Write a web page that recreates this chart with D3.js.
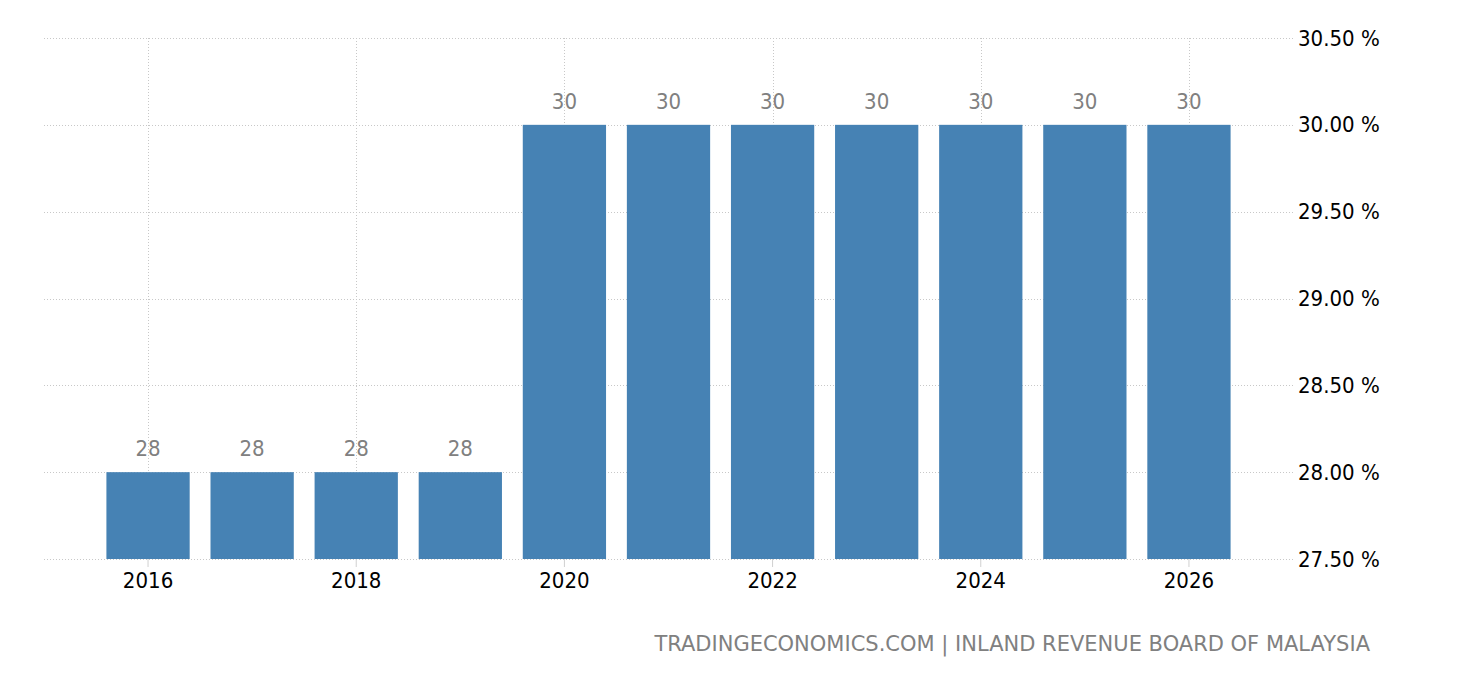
<!DOCTYPE html>
<html>
<head>
<meta charset="utf-8">
<script src="https://cdn.jsdelivr.net/npm/d3@7"></script>
<style>
  body { margin: 0; background: #fff; }
  svg text { font-family: "DejaVu Sans Condensed", "DejaVu Sans", sans-serif; }
</style>
</head>
<body>
<div id="chart"></div>
<script>
// corporate tax rate, Malaysia
const years = ["2016", "2017", "2018", "2019", "2020", "2021", "2022", "2023", "2024", "2025", "2026"];
const rates = [28, 28, 28, 28, 30, 30, 30, 30, 30, 30, 30];
const yTicks = [27.5, 28, 28.5, 29, 29.5, 30, 30.5];
const xTickYears = ["2016", "2018", "2020", "2022", "2024", "2026"];
const source = "TRADINGECONOMICS.COM | INLAND REVENUE BOARD OF MALAYSIA";

const width = 1460, height = 680;
const gridLeft = 44, gridRight = 1293;

const svg = d3.select("#chart").append("svg")
  .attr("width", width)
  .attr("height", height);

const x = d3.scaleBand()
  .domain(years)
  .range([96, 1241])
  .paddingInner(0.2)
  .paddingOuter(0.1);

const y = d3.scaleLinear()
  .domain([27.5, 30.5])
  .range([559, 38]);

// horizontal grid
svg.append("g").selectAll("line")
  .data(yTicks)
  .join("line")
  .attr("x1", gridLeft)
  .attr("x2", gridRight)
  .attr("y1", d => Math.round(y(d)) + 0.5)
  .attr("y2", d => Math.round(y(d)) + 0.5)
  .attr("stroke", "#c8c8c8")
  .attr("stroke-dasharray", "1,2");

// vertical grid at labelled years
svg.append("g").selectAll("line")
  .data(xTickYears)
  .join("line")
  .attr("x1", d => Math.round(x(d) + x.bandwidth() / 2) + 0.5)
  .attr("x2", d => Math.round(x(d) + x.bandwidth() / 2) + 0.5)
  .attr("y1", y(30.5))
  .attr("y2", y(27.5))
  .attr("stroke", "#c8c8c8")
  .attr("stroke-dasharray", "1,2");

// bars
svg.append("g").selectAll("rect")
  .data(years)
  .join("rect")
  .attr("x", d => x(d))
  .attr("width", x.bandwidth())
  .attr("y", (d, i) => y(rates[i]))
  .attr("height", (d, i) => y(27.5) - y(rates[i]))
  .attr("fill", "#4682b4");

// value labels
svg.append("g").selectAll("text")
  .data(years)
  .join("text")
  .attr("x", d => x(d) + x.bandwidth() / 2)
  .attr("y", (d, i) => y(rates[i]) - 16)
  .attr("text-anchor", "middle")
  .attr("font-size", 22)
  .attr("fill", "#808080")
  .text((d, i) => rates[i]);

// x axis
const xAxis = svg.append("g")
  .attr("transform", `translate(0,${y(27.5)})`)
  .call(d3.axisBottom(x).tickValues(xTickYears).tickSize(8).tickPadding(5));
xAxis.select(".domain").remove();
xAxis.selectAll(".tick line").attr("stroke", "#d0d0d0");
xAxis.selectAll(".tick text")
  .attr("font-size", 22)
  .attr("fill", "#000")
  .style("font-family", "\"DejaVu Sans Condensed\", \"DejaVu Sans\", sans-serif");

// y axis on the right
const yAxis = svg.append("g")
  .attr("transform", `translate(${gridRight},0)`)
  .call(d3.axisRight(y).tickValues(yTicks).tickSize(0).tickPadding(5)
    .tickFormat(d => d3.format(".2f")(d) + " %"));
yAxis.select(".domain").remove();
yAxis.selectAll(".tick text")
  .attr("font-size", 22)
  .attr("fill", "#000")
  .style("font-family", "\"DejaVu Sans Condensed\", \"DejaVu Sans\", sans-serif");

// source footer
svg.append("text")
  .attr("x", 1370)
  .attr("y", 651)
  .attr("text-anchor", "end")
  .attr("font-size", 21)
  .attr("fill", "#808080")
  .style("font-family", "\"DejaVu Sans\", sans-serif")
  .text(source);
</script>
</body>
</html>
